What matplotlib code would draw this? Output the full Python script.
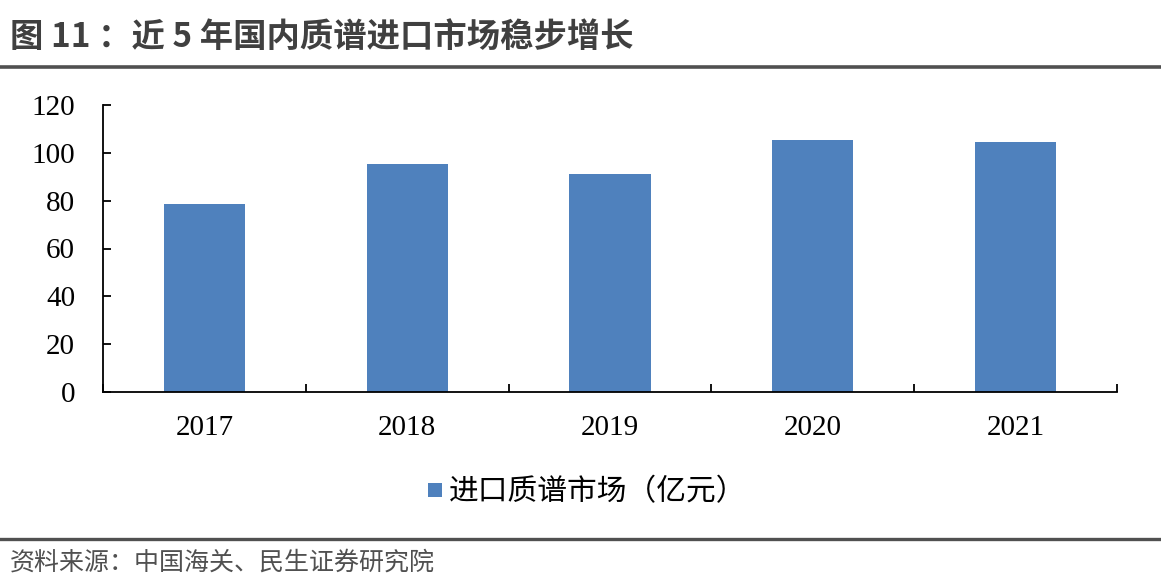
import matplotlib.pyplot as plt
from matplotlib.lines import Line2D
from matplotlib.patches import Rectangle

years = ['2017', '2018', '2019', '2020', '2021']
values = [78.4, 95.4, 90.9, 105.4, 104.6]
yticks = [0, 20, 40, 60, 80, 100, 120]

title = '图 11 ：近 5 年国内质谱进口市场稳步增长'
series_name = '进口质谱市场（亿元）'
source = '资料来源：中国海关、民生证券研究院'

cjk = ['Noto Sans CJK SC', 'DejaVu Sans']
serif = ['Liberation Serif', 'DejaVu Serif']

fig = plt.figure(figsize=(11.61, 5.81), dpi=100)
ax = fig.add_axes([103/1161, 1-392.3/581, (1117-103)/1161, (392.3-104.7)/581])

x = list(range(len(years)))
ax.bar(x, values, width=0.4, color='#4F81BD', label=series_name)

ax.set_xlim(-0.5, len(years)-0.5)
ax.set_ylim(0, 120)
ax.set_yticks(yticks)
ax.set_xticks(x)
ax.set_xticklabels(years)
ax.set_xticks([i-0.5 for i in range(len(years)+1)], minor=True)

for s in ['top', 'right']:
    ax.spines[s].set_visible(False)
for s in ['left', 'bottom']:
    ax.spines[s].set_linewidth(1.3)
    ax.spines[s].set_color('black')

ax.tick_params(axis='y', direction='in', length=6, width=1.3, pad=20, labelsize=21)
ax.tick_params(axis='x', which='major', length=0, pad=16, labelsize=21)
ax.tick_params(axis='x', which='minor', direction='in', length=6, width=1.3)
for lab in ax.get_xticklabels() + ax.get_yticklabels():
    lab.set_family(serif)

# title, rules and source
fig.text(10/1161, 1-37/581, title, family=cjk, fontsize=24, fontweight='bold',
         color='#404040', va='center', ha='left')
fig.add_artist(Line2D([0, 1], [1-66.5/581]*2, color='#505050', lw=2.6))
fig.add_artist(Line2D([0, 1], [1-539/581]*2, color='#505050', lw=2.4))
fig.text(10/1161, 1-563/581, source, family=cjk, fontsize=18,
         color='#505050', va='center', ha='left')

# legend
fig.add_artist(Rectangle((428/1161, 1-497/581), 14/1161, 14/581,
                         facecolor='#4F81BD', edgecolor='none', transform=fig.transFigure))
fig.text(449/1161, 1-492/581, series_name, family=cjk, fontsize=21.4,
         color='black', va='center', ha='left')

fig.savefig('out.png', dpi=100)
